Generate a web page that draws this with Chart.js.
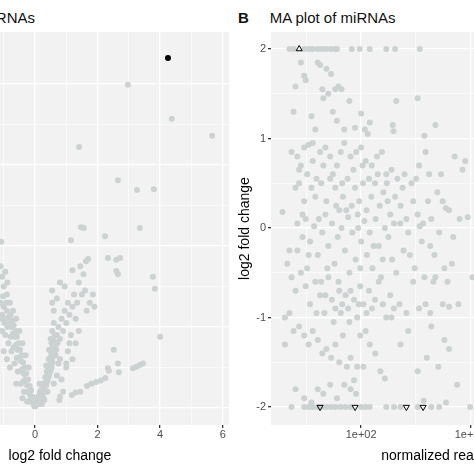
<!DOCTYPE html>
<html>
<head>
<meta charset="utf-8">
<script src="https://cdn.jsdelivr.net/npm/chart.js@4.4.1/dist/chart.umd.min.js"></script>
<style>
  body { margin: 0; width: 474px; height: 474px; overflow: hidden; position: relative; background: #fff; font-family: "Liberation Sans", Arial, sans-serif; }
  canvas { position: absolute; top: 0; }
  .ttl { position: absolute; top: 9px; font-size: 15px; color: #111; white-space: nowrap; }
</style>
</head>
<body>
<div class="ttl" style="right:439px"><b>A</b>&nbsp;&nbsp;&nbsp;&nbsp;Volcano plot of miRNAs</div>
<div class="ttl" style="left:238px"><b>B</b>&nbsp;&nbsp;&nbsp;&nbsp;&nbsp;MA plot of miRNAs</div>
<canvas id="volcano" width="393" height="474" style="left:-154px"></canvas>
<canvas id="ma" width="410" height="474" style="left:237px"></canvas>
<script>
// volcano: [log2 fold change, significance]
var volcanoPoints = [
  [2.97,3.99],[4.37,3.57],[5.66,3.36],[1.41,3.22],[2.65,2.81],[3.26,2.69],[3.80,2.70],[3.35,2.22],
  [1.47,2.23],[1.56,2.22],[2.24,2.12],[1.15,2.07],[1.70,1.84],[1.63,1.81],[2.33,1.85],[2.6,1.83],
  [2.72,1.85],[2.6,1.69],[2.65,1.65],[3.77,1.62],[3.83,1.47],[4.0,0.88],[2.52,0.72],[2.33,0.49],
  [2.36,0.46],[2.68,0.44],[2.65,0.55],[3.13,0.49],[3.24,0.51],[3.35,0.53],[3.45,0.55],
  [1.18,0.16],[1.3,0.19],[1.45,0.2],[1.66,0.27],[1.8,0.3],[1.95,0.32],[2.1,0.34],[2.25,0.37],
  [0.8,0.14],[0.78,0.1],
  [0.02,0.02],[0.05,0.05],[0.1,0.08],[0.12,0.15],[0.18,0.12],[0.2,0.22],[0.25,0.18],[0.28,0.3],
  [0.3,0.25],[0.33,0.38],[0.35,0.32],[0.38,0.45],[0.4,0.4],[0.42,0.52],[0.45,0.48],[0.47,0.6],
  [0.5,0.55],[0.52,0.68],[0.55,0.62],[0.58,0.75],[0.6,0.7],[0.62,0.82],[0.65,0.78],[0.45,0.72],
  [0.5,0.85],[0.55,0.95],[0.6,1.05],[0.7,0.9],[0.75,1.0],[0.8,0.85],[0.85,1.1],[0.9,0.95],
  [0.95,1.2],[1.0,1.05],[1.05,1.3],[1.1,1.15],[1.15,0.9],[1.2,1.25],[1.25,1.4],[1.3,1.1],
  [1.35,1.3],[1.4,1.55],[1.5,1.4],[1.55,1.65],[1.6,1.45],[1.65,1.2],[1.75,1.3],[1.85,1.4],
  [1.9,1.25],[1.2,1.7],[1.45,1.75],[0.55,1.3],[0.55,1.45],[0.7,1.35],[0.8,1.55],[0.6,1.2],
  [0.95,1.5],[1.05,0.7],[1.2,0.6],[1.0,0.55],[0.8,0.6],[0.7,0.4],[0.85,0.35],[1.0,0.5],
  [1.3,0.8],[0.15,0.3],[0.22,0.05],[0.3,0.1],[0.4,0.2],[0.6,0.3],[0.9,0.2],[0.75,0.55],
  [1.4,0.95],[1.1,0.8],
  [0.08,0.12],[0.14,0.05],[0.16,0.2],[0.24,0.26],[0.27,0.12],[0.32,0.2],[0.36,0.28],[0.4,0.33],
  [0.43,0.38],[0.46,0.42],[0.5,0.46],[0.53,0.5],[0.56,0.56],[0.48,0.62],[0.44,0.6],[0.41,0.45],
  [0.36,0.52],[0.57,0.85],[0.63,0.9],[0.68,0.72],[0.72,0.8],[0.66,0.65],[0.5,0.72],[0.53,0.8],
  [-0.02,0.02],[-0.05,0.06],[-0.1,0.1],[-0.15,0.15],[-0.12,0.22],[-0.2,0.2],[-0.25,0.28],
  [-0.22,0.35],[-0.3,0.35],[-0.35,0.42],[-0.32,0.5],[-0.4,0.48],[-0.45,0.58],[-0.42,0.65],
  [-0.5,0.62],[-0.55,0.72],[-0.52,0.8],[-0.6,0.78],[-0.65,0.88],[-0.62,0.95],[-0.7,0.92],
  [-0.75,1.0],[-0.72,1.08],[-0.8,1.05],[-0.85,1.12],[-0.9,1.2],[-0.95,1.1],[-1.0,1.25],
  [-1.05,1.15],[-1.1,1.3],[-0.9,1.4],[-1.0,1.5],[-1.05,1.62],[-0.95,1.68],[-1.1,1.75],
  [-0.8,1.3],[-0.7,1.2],[-0.6,1.1],[-0.5,0.95],[-0.4,0.8],[-0.3,0.65],[-0.2,0.5],[-0.35,0.2],
  [-0.45,0.3],[-0.55,0.45],[-0.65,0.55],[-0.75,0.7],[-0.85,0.8],[-0.95,0.9],[-1.05,0.95],
  [-0.25,0.08],[-0.4,0.12],[-0.6,0.3],[-0.8,0.5],[-1.0,0.7],[-1.08,2.05],[-0.9,0.6],
  [-0.08,0.14],[-0.18,0.08],[-0.17,0.27],[-0.27,0.2],[-0.28,0.43],[-0.37,0.33],[-0.38,0.56],
  [-0.47,0.45],[-0.48,0.72],[-0.58,0.62],[-0.58,0.88],[-0.68,0.75],[-0.68,1.02],[-0.78,0.88],
  [-0.78,1.15],[-0.88,1.0],[-0.92,1.3],[-0.98,1.05],[-1.02,1.38],[-1.08,1.1],[-0.88,1.55]
];
var volcanoTop = [[4.25,4.32]];
var volcanoXTicks = [-4,-3,-2,-1,0,1,2,3,4,5,6];

// MA: [normalized read count, log2 fold change]
var maPoints = [
  [22,2],[24,2],[30,2],[33,2],[36,2],[40,2],[44,2],[48,2],[53,2],[58,2],[60,2],[82,2],[97,2],
  [120,2],[170,2],[205,2],[345,2],
  [23,-2],[30,-2],[33,-2],[36,-2],[40,-2],[44,-2],[48,-2],[53,-2],[58,-2],[65,-2],[72,-2],
  [80,-2],[100,-2],[110,-2],[120,-2],[170,-2],[200,-2],[230,-2],[330,-2],[440,-2],[520,-2],[1000,-2],
  [25,1.58],[24,1.3],[28,1.85],[30,1.7],[31,1.65],[40,1.85],[42,1.82],[48,1.78],[53,1.72],
  [58,1.55],[44,1.55],[50,1.5],[62,1.58],[66,1.55],[78,1.42],[35,1.25],[38,1.1],[45,1.45],
  [55,1.3],[60,1.2],[70,1.1],[88,1.12],[100,1.28],[108,1.1],[115,1.05],[120,1.18],[210,1.42],
  [195,1.15],[198,1.08],[330,1.45],[480,1.15],[380,1.03],[23,0.85],[26,0.8],[28,0.7],[30,0.9],
  [33,0.93],[36,0.95],[42,0.85],[47,0.9],[52,0.8],[60,0.7],[65,0.85],[70,0.95],[80,0.8],
  [90,0.85],[100,0.9],[110,0.75],[125,0.7],[140,0.8],[155,0.85],[170,0.6],[190,0.65],
  [215,0.55],[250,0.6],[290,0.5],[340,0.7],[390,0.85],[420,0.6],[500,0.4],[560,0.3],
  [640,0.2],[720,0.8],[850,0.65],[900,0.75],[25,0.45],[27,0.5],[30,0.3],[32,0.6],[35,0.45],
  [38,0.35],[43,0.5],[48,0.3],[52,0.55],[58,0.45],[63,0.2],[68,0.35],[75,0.55],[82,0.25],
  [88,0.45],[96,0.3],[104,0.5],[112,0.2],[124,0.35],[134,0.5],[148,0.25],[160,0.4],[175,0.3],
  [185,0.15],[205,0.35],[230,0.25],[260,0.1],[300,0.3],[330,0.15],[370,0.05],[440,0.1],
  [600,0.22],[800,0.1],[950,0.12],[19,0.18],[22,-0.25],[26,0.05],[29,-0.1],[31,0.1],
  [34,-0.15],[37,0.02],[40,-0.3],[44,-0.05],[47,0.15],[50,-0.2],[54,0.05],[57,-0.4],
  [61,-0.1],[66,0.0],[71,-0.25],[76,0.12],[83,-0.05],[89,-0.35],[94,0.0],[100,-0.15],
  [107,0.08],[113,-0.3],[120,-0.05],[127,-0.45],[136,0.1],[145,-0.2],[152,-0.55],[165,0.0],
  [178,-0.1],[192,-0.35],[210,-0.5],[228,0.05],[245,-0.25],[270,-0.05],[310,-0.45],[345,0.02],
  [380,-0.55],[430,-0.2],[470,-0.3],[520,-0.05],[580,-0.45],[620,-0.6],[700,-0.1],[1050,-0.55],
  [21,-0.4],[23,-0.55],[25,-0.7],[28,-0.5],[31,-0.65],[34,-0.85],[38,-0.6],[42,-0.75],
  [46,-0.95],[50,-0.55],[54,-0.8],[58,-0.9],[63,-0.7],[67,-0.85],[72,-0.75],[76,-0.9],
  [80,-0.7],[86,-0.8],[92,-1.0],[98,-0.65],[105,-0.85],[112,-0.95],[118,-0.7],[126,-0.9],
  [134,-0.8],[145,-0.6],[158,-0.85],[170,-1.0],[185,-0.75],[200,-0.9],[225,-0.85],[260,-0.95],
  [300,-0.6],[340,-0.9],[390,-0.85],[430,-0.95],[480,-0.55],[560,-0.85],[640,-0.88],[780,-0.85],
  [20,-1.0],[22,-0.95],[24,-1.15],[27,-1.1],[30,-1.2],[33,-1.3],[36,-1.15],[40,-1.25],
  [44,-1.4],[48,-1.35],[53,-1.45],[58,-1.3],[63,-1.5],[68,-1.2],[74,-1.55],[80,-1.45],
  [86,-1.7],[92,-1.55],[98,-1.2],[105,-1.55],[120,-1.3],[135,-1.4],[150,-1.6],[165,-1.68],
  [190,-1.0],[230,-1.3],[270,-1.15],[330,-1.6],[400,-1.45],[440,-1.1],[510,-1.55],[580,-1.25],
  [640,-1.35],[760,-1.75],[20,-1.3],[25,-1.8],[30,-1.9],[35,-1.95],[40,-1.8],[45,-1.85],
  [52,-1.75],[60,-1.9],[70,-1.75],[80,-1.8],[90,-1.85],[375,-1.93],[600,-1.95],
  [27,0.65],[29,0.15],[33,-0.3],[36,0.75],[39,0.55],[41,0.1],[45,0.7],[49,-0.45],[55,0.6],
  [59,0.25],[62,-0.6],[67,0.5],[73,0.2],[78,-0.5],[85,0.65],[93,0.15],[98,-0.45],[103,0.7],
  [118,0.55],[130,-0.2],[142,0.6],[158,-0.35],[172,0.5],[200,0.05],[240,0.45],[280,-0.3],
  [320,0.55],[360,-0.15],[410,0.3],[460,-0.6],[540,0.6],[680,-0.4],[26,-0.25],[32,-0.45],
  [39,-0.95],[43,-0.6],[47,-0.75],[56,-1.05],[65,-0.95],[78,-1.05],[95,-0.85],[110,-1.15]
];
var maUp = [[27,2]];
var maDown = [[42,-2],[88,-2],[260,-2],[370,-2]];
var maXTicks = [31.6,100,316,1000,3162,10000,31623];

var grey = '#CCD1D1';
var tickFont = { family: 'Liberation Sans', size: 11 };
var titleFont = { family: 'Liberation Sans', size: 14 };

function toXY(list) { return list.map(function(p) { return { x: p[0], y: p[1] }; }); }
function isMajor(v) { return Math.abs(v - Math.round(v)) < 1e-6; }
function halfSteps(scale) {
  scale.ticks = scale.ticks.filter(function(t) { return Math.abs(t.value * 2 - Math.round(t.value * 2)) < 1e-6; });
}

var panelBg = {
  id: 'panelBg',
  beforeDraw: function(chart) {
    var a = chart.chartArea, ctx = chart.ctx;
    ctx.save();
    ctx.fillStyle = '#F2F2F2';
    ctx.fillRect(a.left, a.top, a.right - a.left, a.bottom - a.top);
    ctx.restore();
  }
};

function gridOpts(major) {
  return {
    color: '#FFFFFF',
    lineWidth: function(c) { return major(c.tick.value) ? 1.3 : 0.6; },
    tickColor: function(c) { return major(c.tick.value) ? '#333333' : 'rgba(0,0,0,0)'; },
    tickLength: 3
  };
}

new Chart(document.getElementById('volcano'), {
  type: 'scatter',
  data: {
    datasets: [
      { data: toXY(volcanoTop), backgroundColor: '#000', borderWidth: 0, pointRadius: 3, order: 0 },
      { data: toXY(volcanoPoints), backgroundColor: grey, borderWidth: 0, pointRadius: 3, order: 1 }
    ]
  },
  options: {
    responsive: false,
    animation: false,
    events: [],
    layout: { padding: { left: 5, right: 10, top: 32, bottom: 9 } },
    plugins: { legend: { display: false }, tooltip: { enabled: false } },
    scales: {
      x: {
        type: 'linear', min: -4.6, max: 6.2,
        afterBuildTicks: function(s) { s.ticks = volcanoXTicks.map(function(v) { return { value: v }; }); },
        afterFit: function(s) { s.height = 40; },
        border: { display: false },
        grid: gridOpts(function(v) { return v % 2 === 0; }),
        ticks: { font: tickFont, color: '#4D4D4D', padding: 0,
          callback: function(v) { return v % 2 === 0 ? String(v) : ''; } },
        title: { display: true, text: 'log2 fold change', font: titleFont, color: '#000', padding: 0 }
      },
      y: {
        type: 'linear', min: -0.21, max: 4.64,
        afterBuildTicks: halfSteps,
        afterFit: function(s) { s.width = 40; },
        border: { display: false },
        grid: gridOpts(isMajor),
        ticks: { font: tickFont, color: '#4D4D4D', stepSize: 0.5,
          callback: function(v) { return isMajor(v) ? String(v) : ''; } }
      }
    }
  },
  plugins: [panelBg]
});

new Chart(document.getElementById('ma'), {
  type: 'scatter',
  data: {
    datasets: [
      { data: toXY(maUp), pointStyle: 'triangle', backgroundColor: 'rgba(0,0,0,0)', borderColor: '#000', borderWidth: 1, pointRadius: 3.5, order: 0 },
      { data: toXY(maDown), pointStyle: 'triangle', rotation: 180, backgroundColor: 'rgba(0,0,0,0)', borderColor: '#000', borderWidth: 1, pointRadius: 3.5, order: 0 },
      { data: toXY(maPoints), backgroundColor: grey, borderWidth: 0, pointRadius: 3, order: 1 }
    ]
  },
  options: {
    responsive: false,
    animation: false,
    events: [],
    layout: { padding: { left: 0, right: 10, top: 32, bottom: 9 } },
    plugins: { legend: { display: false }, tooltip: { enabled: false } },
    scales: {
      x: {
        type: 'logarithmic', min: 14.9, max: 33900,
        afterBuildTicks: function(s) { s.ticks = maXTicks.map(function(v) { return { value: v }; }); },
        afterFit: function(s) { s.height = 40; },
        border: { display: false },
        grid: gridOpts(function(v) { return isMajor(Math.log10(v)); }),
        ticks: { font: tickFont, color: '#4D4D4D', padding: 0, autoSkip: false, maxRotation: 0,
          callback: function(v) {
            var e = Math.log10(v);
            return isMajor(e) ? '1e+' + String(Math.round(e)).padStart(2, '0') : '';
          } },
        title: { display: true, text: 'normalized read counts', font: titleFont, color: '#000', padding: 0 }
      },
      y: {
        type: 'linear', min: -2.2, max: 2.19,
        afterBuildTicks: halfSteps,
        afterFit: function(s) { s.width = 34; },
        border: { display: false },
        grid: gridOpts(isMajor),
        ticks: { font: tickFont, color: '#4D4D4D', stepSize: 0.5, padding: 2,
          callback: function(v) { return isMajor(v) ? String(v) : ''; } },
        title: { display: true, text: 'log2 fold change', font: titleFont, color: '#000', padding: 0 }
      }
    }
  },
  plugins: [panelBg]
});
</script>
</body>
</html>
